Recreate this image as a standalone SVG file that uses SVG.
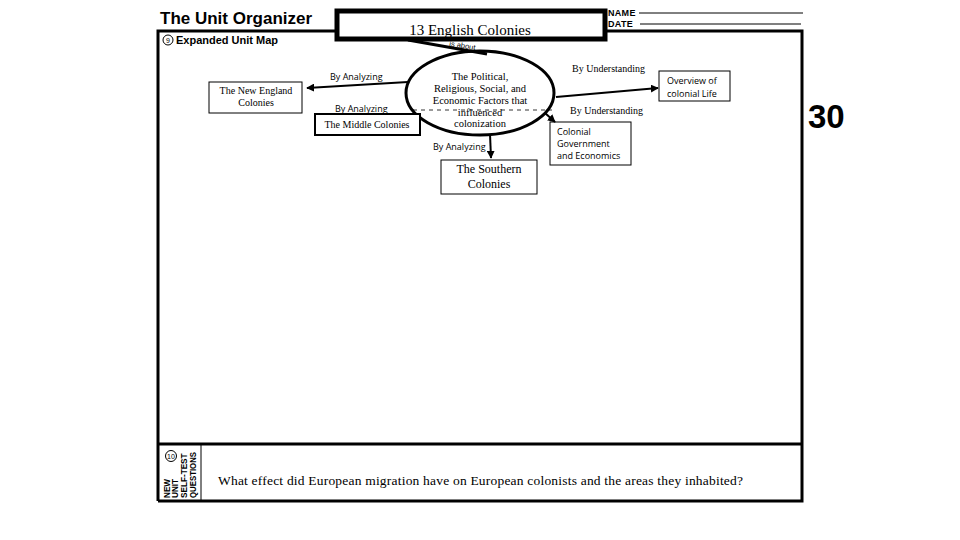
<svg xmlns="http://www.w3.org/2000/svg" width="960" height="540" viewBox="0 0 960 540">
<defs>
<style>
.sans{font-family:"Liberation Sans",Arial,sans-serif;}
.serif{font-family:"Liberation Serif","Times New Roman",serif;}
.lbl{font-family:"Open Sans","Liberation Sans",sans-serif;font-size:9px;fill:#000;}
.box{fill:#fff;stroke:#000;stroke-width:1;}
.conn{fill:none;stroke:#000;stroke-width:2;}
</style>
<marker id="ah" viewBox="0 0 10 10" refX="9" refY="5" markerWidth="4" markerHeight="4" orient="auto" markerUnits="strokeWidth">
<path d="M0,0 L10,5 L0,10 z" fill="#000"/>
</marker>
</defs>
<rect width="960" height="540" fill="#fff"/>

<g id="frame">
<path d="M158,501 L158,31 L336,31 M605,31 L802,31 L802,501 L158,501" fill="none" stroke="#000" stroke-width="3"/>
<line x1="158" y1="444" x2="802" y2="444" stroke="#000" stroke-width="3"/>
<line x1="201" y1="444" x2="201" y2="501" stroke="#000" stroke-width="1"/>
<text class="sans" x="160" y="24" font-size="17" font-weight="bold">The Unit Organizer</text>
<circle cx="168" cy="40" r="5" fill="#fff" stroke="#000" stroke-width="1"/>
<text class="sans" x="168" y="43" font-size="7" text-anchor="middle">9</text>
<text class="sans" x="176" y="44" font-size="11" font-weight="bold">Expanded Unit Map</text>
<text class="sans" x="608" y="16" font-size="9" font-weight="bold" letter-spacing="0.3">NAME</text>
<line x1="639" y1="13" x2="803" y2="13" stroke="#000" stroke-width="1"/>
<text class="sans" x="608" y="27" font-size="9" font-weight="bold" letter-spacing="0.3">DATE</text>
<line x1="640" y1="24" x2="801" y2="24" stroke="#000" stroke-width="1"/>
<text class="sans" x="808" y="128" font-size="33" font-weight="bold">30</text>
</g>

<g id="title-box">
<rect x="337" y="11" width="268" height="28" fill="#fff" stroke="#000" stroke-width="5"/>
<text class="serif" x="470" y="35" font-size="15" text-anchor="middle">13 English Colonies</text>
</g>

<g id="self-test">
<circle cx="171" cy="456" r="5.5" fill="#fff" stroke="#000" stroke-width="1"/>
<text class="sans" x="171" y="459" font-size="7" text-anchor="middle">10</text>
<g class="sans" font-size="8.2" font-weight="bold">
<text transform="translate(170,498) rotate(-90)">NEW</text>
<text transform="translate(178,498) rotate(-90)">UNIT</text>
<text transform="translate(187,498) rotate(-90)">SELF-TEST</text>
<text transform="translate(196,498) rotate(-90)" textLength="46" lengthAdjust="spacingAndGlyphs">QUESTIONS</text>
</g>
<text class="serif" x="218" y="485" font-size="13.5" textLength="525" lengthAdjust="spacing">What effect did European migration have on European colonists and the areas they inhabited?</text>
</g>

<g id="center">
<ellipse cx="480" cy="93" rx="74" ry="42" fill="#fff" stroke="#000" stroke-width="3"/>
<line x1="413" y1="110" x2="552" y2="110" stroke="#000" stroke-width="0.8" stroke-dasharray="4,4"/>
<g class="serif" font-size="10.5" text-anchor="middle">
<text x="480" y="80">The Political,</text>
<text x="480" y="92">Religious, Social, and</text>
<text x="480" y="104">Economic Factors that</text>
<text x="480" y="116">influenced</text>
<text x="480" y="127">colonization</text>
</g>
</g>

<g id="new-england">
<rect x="209" y="82" width="93" height="31" class="box"/>
<text class="serif" x="256" y="94" font-size="10" text-anchor="middle">The New England</text>
<text class="serif" x="256" y="106" font-size="10" text-anchor="middle">Colonies</text>
</g>

<g id="middle">
<rect x="315" y="114" width="105" height="21" fill="#fff" stroke="#000" stroke-width="2"/>
<text class="serif" x="367" y="128" font-size="10" text-anchor="middle">The Middle Colonies</text>
</g>

<g id="southern">
<rect x="441" y="160" width="96" height="34" class="box"/>
<text class="serif" x="489" y="173" font-size="12" text-anchor="middle">The Southern</text>
<text class="serif" x="489" y="188" font-size="12" text-anchor="middle">Colonies</text>
</g>

<g id="overview">
<rect x="659" y="71" width="71" height="30" class="box"/>
<text class="lbl" x="667" y="84">Overview of</text>
<text class="lbl" x="667" y="97">colonial Life</text>
</g>

<g id="government">
<rect x="550" y="122" width="81" height="43" class="box"/>
<text class="lbl" x="557" y="135">Colonial</text>
<text class="lbl" x="557" y="147">Government</text>
<text class="lbl" x="557" y="159">and Economics</text>
</g>

<g id="connectors">
<path d="M408,40 L487,54" fill="none" stroke="#000" stroke-width="3"/>
<text class="sans" font-size="7.5" transform="translate(449,46) rotate(9)">is about</text>
<line x1="408" y1="82" x2="307" y2="88" class="conn" marker-end="url(#ah)"/>
<line x1="490" y1="134" x2="491" y2="158" class="conn" marker-end="url(#ah)"/>
<line x1="556" y1="97" x2="658" y2="88" class="conn" marker-end="url(#ah)"/>
<line x1="545" y1="113" x2="555" y2="122" class="conn" marker-end="url(#ah)"/>
<text class="lbl" x="330" y="80">By Analyzing</text>
<text class="lbl" x="335" y="112">By Analyzing</text>
<text class="lbl" x="433" y="150">By Analyzing</text>
<text class="serif" x="572" y="72" font-size="10">By Understanding</text>
<text class="serif" x="570" y="114" font-size="10">By Understanding</text>
</g>
</svg>
